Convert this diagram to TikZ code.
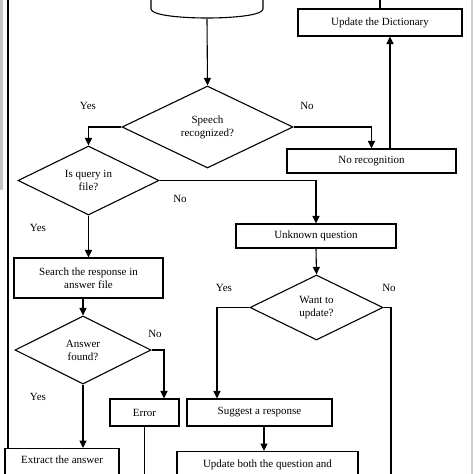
\documentclass[tikz,border=0pt]{standalone}
\usepackage{fontspec}
\setmainfont{Liberation Serif}
\usetikzlibrary{arrows.meta, shapes.geometric}

\begin{document}
\begin{tikzpicture}[x=1pt, y=-1pt, >={Triangle[length=7.5pt, width=7pt]}, line width=1.1pt,
  font=\fontsize{11}{13}\selectfont,
  procbox/.style={draw, rectangle, inner sep=0pt, align=center},
  decision/.style={draw, diamond, aspect=2, inner sep=0pt, align=center},
  lbl/.style={inner sep=0pt}]
  \clip (0,0) rectangle (474,474);
  \fill[white] (0,0) rectangle (474,474);
  \draw[gray!45, line width=3pt] (1.5,0) -- (1.5,190);
  \draw[gray!40, line width=1.5pt] (472,0) -- (472,474);

  \draw (151,-5) -- (151,9) .. controls (151,21) and (263,21) .. (263,9) -- (263,-5);
  \coordinate (startbot) at (207,19);

  \node[procbox, minimum width=164, minimum height=27] (dict) at (380,22.5) {Update the Dictionary};
  \node[decision, minimum width=171, minimum height=82] (speech) at (207.5,127) {Speech\\recognized?};
  \node[procbox, minimum width=169, minimum height=24] (norec) at (371.5,161) {No recognition};
  \node[decision, minimum width=141, minimum height=69] (query) at (88.5,180.5) {Is query in\\file?};
  \node[procbox, minimum width=160, minimum height=24] (unknown) at (316,236) {Unknown question};
  \node[procbox, minimum width=149, minimum height=40] (search) at (88.5,278) {Search the response in\\answer file};
  \node[decision, minimum width=133, minimum height=65] (want) at (316.5,307.5) {Want to\\update?};
  \node[decision, minimum width=136, minimum height=68] (found) at (83,350) {Answer\\found?};
  \node[procbox, minimum width=69, minimum height=27] (error) at (144.5,412.5) {Error};
  \node[procbox, minimum width=145, minimum height=27] (suggest) at (259.5,412.5) {Suggest a response};
  \node[procbox, anchor=north, minimum width=114, inner ysep=7pt, text depth=30pt] (extract) at (62,448) {Extract the answer};
  \node[procbox, anchor=north, minimum width=181, inner ysep=8pt, text depth=30pt] (update) at (267.5,451) {Update both the question and};

  \node[lbl] (yes1) at (88,106) {Yes};
  \node[lbl] (no1) at (307,106) {No};
  \node[lbl] (no2) at (180,199) {No};
  \node[lbl] (yes2) at (38,228) {Yes};
  \node[lbl] (yes3) at (224,288) {Yes};
  \node[lbl] (no3) at (389,288) {No};
  \node[lbl] (no4) at (155,334) {No};
  \node[lbl] (yes4) at (38,397) {Yes};

  \coordinate (fbx) at (390,0);
  \coordinate (errx) at (164,0);
  \coordinate (sugx) at (217,0);
  \coordinate (updx) at (264,0);
  \coordinate (leftx) at (8,0);
  \coordinate (rightx) at (391,490);

  \draw[->] (startbot) -- (speech.north);
  \draw[->] (speech.west) -| (query.north);
  \draw[->] (speech.east) -| (norec.north);
  \draw[->] (norec.north -| fbx) -- (dict.south -| fbx);
  \draw (dict.north) -- ++(0,-15);
  \draw[->] (query.east) -| (unknown.north);
  \draw[->] (query.south) -- (search.north);
  \draw[->] (search.south -| found.north) -- (found.north);
  \draw[->] (found.east) -| (error.north -| errx);
  \draw[->] (found.south) -- (found.south |- extract.north);
  \draw[->] (unknown.south) -- (want.north);
  \draw[->] (want.west) -| (suggest.north -| sugx);
  \draw (want.east) -| (rightx);
  \draw[->] (suggest.south -| updx) -- (update.north -| updx);
  \draw (error.south) -- ++(0,60);
  \draw (extract.north -| leftx) -- (leftx);
\end{tikzpicture}
\end{document}
